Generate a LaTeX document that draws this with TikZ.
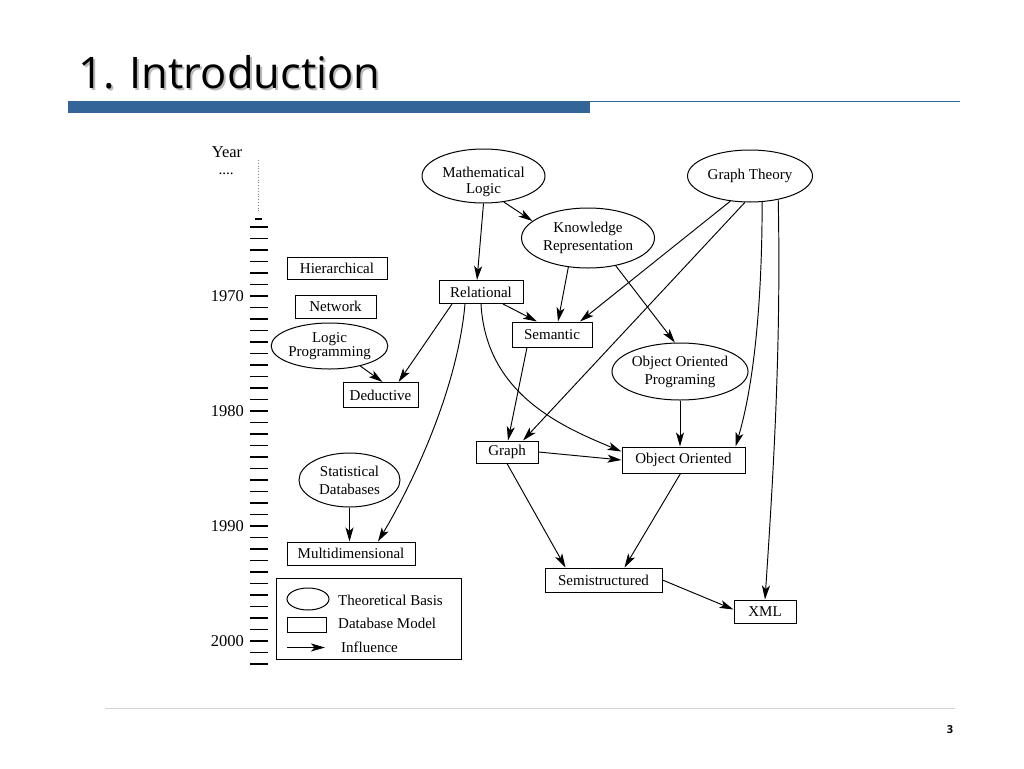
\documentclass[tikz,border=0pt]{standalone}
\usepackage{fontspec}
\setmainfont{Liberation Serif}
\newfontfamily\titlefont{Open Sans}
\usetikzlibrary{arrows.meta,shapes.geometric}
\definecolor{slideblue}{RGB}{52,101,153}

\begin{document}
\begin{tikzpicture}[x=1pt,y=-1pt,font=\fontsize{15}{17}\selectfont]

      % Styles: a box is a database model, an ellipse a theoretical basis
      \tikzstyle{model}=[draw,rectangle,inner sep=0pt,line width=1pt]
      \tikzstyle{basis}=[draw,ellipse,inner sep=0pt,align=center,line width=1pt]
      \tikzstyle{influence}=[-{Stealth[length=14pt,width=8pt,inset=3.5pt]},line width=0.95pt]
      \tikzstyle{plain}=[inner sep=0pt]
      \tikzstyle{yearfont}=[font=\fontsize{16.5}{18}\selectfont]

      % Dimensions of the time line
      \def\yzero{296}   % y of the year 1970
      \def\dy{11.5}     % one year

      % Page
      \useasboundingbox[fill=white] (0,0) rectangle (1024,768);

      % Title with its shadow and the bars
      \node[plain,anchor=base west,text=gray!55,font=\titlefont\fontsize{43.5}{50}\selectfont] (titleshadow) at (80,90) {1. Introduction};
      \node[plain,anchor=base west,font=\titlefont\fontsize{43.5}{50}\selectfont] (title) at (78,88) {1. Introduction};
      \fill[slideblue] (68,101) rectangle (590,113);
      \draw[slideblue,line width=1.2pt] (590,101.6) -- (960,101.6);
      \draw[gray!35,line width=0.8pt] (105,708) -- (955,708);
      \node[plain,font=\titlefont\bfseries\fontsize{11}{12}\selectfont] (page) at (950,730) {3};

      % Time line
      \node[plain,yearfont] (year) at (227,152) {Year};
      \node[plain] (dots) at (226,174) {....};
      \draw[dotted,gray,line width=0.8pt] (258,160) -- (258,213);
      \draw[line width=1.1pt] (255,219) -- (262,219);
      \foreach \yr in {1964,...,2001}
         \draw[line width=1.1pt] (250,{\yzero+(\yr-1970)*\dy}) -- (268,{\yzero+(\yr-1970)*\dy});
      \draw[line width=1.8pt] (250,{\yzero+32*\dy}) -- (268,{\yzero+32*\dy});
      \foreach \yr in {1970,1980,1990,2000}
         \node[plain,yearfont,anchor=east] (y\yr) at (244,{\yzero+(\yr-1970)*\dy}) {\yr};

      % Theoretical basis
      \node[basis,minimum width=123,minimum height=54] (ml) at (483.5,176) {};
      \node[plain,align=center] (mltext) at (483.5,182) {Mathematical\\[-1.5pt]Logic};
      \node[basis,minimum width=133,minimum height=60] (kr) at (588,238) {Knowledge\\[1pt]Representation};
      \node[basis,minimum width=125,minimum height=52] (gt) at (750,176) {Graph Theory};
      \node[basis,minimum width=107,minimum height=46] (lp) at (329.5,346) {Logic\\[-3pt]Programming};
      \node[basis,minimum width=136,minimum height=57] (oop) at (680,371.5) {Object Oriented\\[1pt]Programing};
      \node[basis,minimum width=101,minimum height=54] (stat) at (349.5,480) {Statistical\\[1pt]Databases};

      % Database models
      \node[model,minimum width=100,minimum height=22] (hier) at (337,268) {Hierarchical};
      \node[model,minimum width=81,minimum height=23] (net) at (335.5,306.5) {Network};
      \node[model,minimum width=84,minimum height=23] (rel) at (481,292) {Relational};
      \node[model,minimum width=80,minimum height=25] (sem) at (552,334.5) {Semantic};
      \node[model,minimum width=75,minimum height=25] (ded) at (380.5,395) {Deductive};
      \node[model,minimum width=62,minimum height=22] (graph) at (507,452) {Graph};
      \node[model,minimum width=123,minimum height=26] (oo) at (683.5,460) {Object Oriented};
      \node[model,minimum width=128,minimum height=23] (multi) at (351,553.5) {Multidimensional};
      \node[model,minimum width=117,minimum height=24] (semi) at (603.5,580) {Semistructured};
      \node[model,minimum width=62,minimum height=23] (xml) at (765,611.5) {XML};

      % Influences
      \draw[influence] (ml.south) -- ([xshift=-4]rel.north);
      \draw[influence] (ml.-52) -- (kr.163);
      \draw[influence] (kr.-124) -- ([xshift=6]sem.north);
      \draw[influence] (kr.-45) -- (oop.100);
      \draw[influence] ([xshift=22]rel.south) -- ([xshift=-15]sem.north);
      \draw[influence] ([xshift=-29]rel.south) -- ([xshift=18]ded.north);
      \draw[influence] ([xshift=-16]rel.south) .. controls +(-8,90) and +(30,-50) .. ([xshift=27]multi.north);
      \draw[influence] (rel.south) .. controls +(5,90) and +(-60,-25) .. ([yshift=-5]oo.north west);
      \draw[influence] (gt.-128) -- ([xshift=28]sem.north);
      \draw[influence] (gt.-101) -- ([xshift=16]graph.north);
      \draw[influence] (gt.-65) .. controls +(0,120) and +(15,-50) .. ([xshift=-10]oo.north east);
      \draw[influence] (gt.-40) .. controls +(3,150) and +(8,-120) .. (xml.north);
      \draw[influence] (lp.-33) -- ([xshift=2]ded.north);
      \draw[influence] ([xshift=-25]sem.south) -- ([xshift=1]graph.north);
      \draw[influence] (oop.south) -- (oop.south |- oo.north);
      \draw[influence] (graph.east) -- (oo.west);
      \draw[influence] (graph.south) -- ([xshift=-38]semi.north);
      \draw[influence] ([xshift=-3]oo.south) -- ([xshift=21]semi.north);
      \draw[influence] (semi.east) -- ([yshift=2]xml.west);
      \draw[influence] (stat.south) -- (stat.south |- multi.north);

      % Legend
      \draw[line width=1pt] (276,578) rectangle (461,659);
      \node[basis,minimum width=42,minimum height=22] (legbasis) at (308,599) {};
      \node[plain,anchor=west] (legbasistext) at (338,600) {Theoretical Basis};
      \node[model,minimum width=39,minimum height=15] (legmodel) at (306.5,624.5) {};
      \node[plain,anchor=west] (legmodeltext) at (338,623) {Database Model};
      \coordinate (legfrom) at (287,647.5);
      \coordinate (legto) at (325,647.5);
      \draw[influence] (legfrom) -- (legto);
      \node[plain,anchor=west] (leginfltext) at (341,647) {Influence};

   \end{tikzpicture}
\end{document}
